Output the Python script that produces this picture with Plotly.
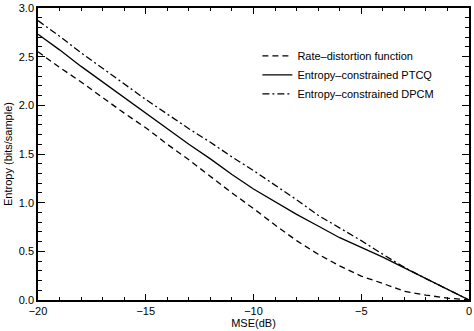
import plotly.graph_objects as go

mse_db = [-20, -19, -18, -17, -16, -15, -14, -13, -12, -11, -10,
          -9, -8, -7, -6, -5, -4, -3, -2, -1, 0]
rate_distortion = [2.55, 2.39, 2.24, 2.08, 1.92, 1.77, 1.60, 1.44, 1.27, 1.10, 0.94,
                   0.77, 0.61, 0.47, 0.35, 0.245, 0.17, 0.09, 0.05, 0.02, 0.0]
ec_ptcq = [2.73, 2.57, 2.40, 2.24, 2.08, 1.92, 1.76, 1.60, 1.45, 1.29, 1.14,
           1.01, 0.88, 0.76, 0.64, 0.54, 0.44, 0.33, 0.22, 0.11, 0.0]
ec_dpcm = [2.87, 2.71, 2.54, 2.38, 2.22, 2.06, 1.91, 1.76, 1.62, 1.47, 1.33,
           1.18, 1.03, 0.87, 0.74, 0.61, 0.47, 0.335, 0.22, 0.11, 0.0]

series = [
    ("Rate\u2013distortion function", rate_distortion, "6px,4px"),
    ("Entropy\u2013constrained PTCQ", ec_ptcq, "solid"),
    ("Entropy\u2013constrained DPCM", ec_dpcm, "7px,3px,2px,3px"),
]

fig = go.Figure()
for name, ys, dash in series:
    fig.add_trace(go.Scatter(x=mse_db, y=ys, mode="lines", name=name,
                             line=dict(color="black", width=1.3, dash=dash)))

font = dict(family="Liberation Sans, Arial, sans-serif", size=11, color="black")
fig.update_layout(
    width=474, height=331,
    margin=dict(l=38, r=2, t=6, b=31),
    paper_bgcolor="white", plot_bgcolor="white",
    font=font,
    showlegend=True,
    legend=dict(x=0.509, y=0.886, xanchor="left", yanchor="top",
                bgcolor="rgba(0,0,0,0)", font=dict(size=11, color="black"),
                tracegroupgap=0, itemwidth=30),
)
fig.update_xaxes(
    range=[-20, 0], tickmode="array", tickvals=[-20, -15, -10, -5, 0],
    ticks="inside", ticklen=6, tickwidth=1, tickcolor="black",
    ticklabeloverflow="allow",
    showline=True, linecolor="black", linewidth=1.5, mirror="ticks",
    showgrid=False, zeroline=False,
    minor=dict(dtick=1, ticks="inside", ticklen=3, tickcolor="black", showgrid=False),
    title=dict(text="MSE(dB)", standoff=2, font=dict(size=11)),
)
fig.update_yaxes(
    range=[0, 3.0], tickmode="array", tickvals=[0, 0.5, 1.0, 1.5, 2.0, 2.5, 3.0],
    tickformat=".1f",
    ticks="inside", ticklen=7, tickwidth=1, tickcolor="black",
    ticklabeloverflow="allow",
    showline=True, linecolor="black", linewidth=1.5, mirror="ticks",
    showgrid=False, zeroline=False,
    minor=dict(dtick=0.1, ticks="inside", ticklen=4, tickcolor="black", showgrid=False),
    title=dict(text="Entropy (bits/sample)", standoff=4, font=dict(size=11)),
)
fig.write_html("out.html")
